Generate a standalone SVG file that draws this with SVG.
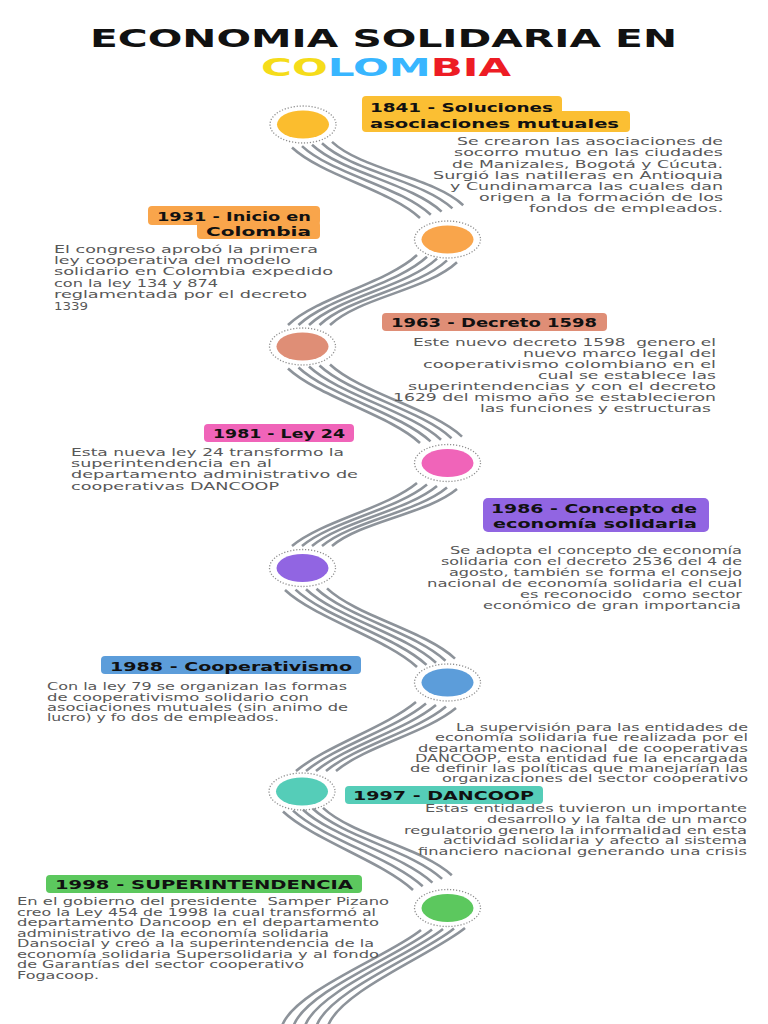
<svg xmlns="http://www.w3.org/2000/svg" width="768" height="1024" viewBox="0 0 768 1024">
<style>
.bg{fill:#ffffff}
.ttl{font-family:"DejaVu Sans","Liberation Sans",sans-serif;font-weight:bold;font-size:25px;fill:#111}
.h{font-family:"DejaVu Sans","Liberation Sans",sans-serif;font-weight:bold;font-size:13px;fill:#111}
.h1{font-size:12.8px}
.t{font-family:"DejaVu Sans","Liberation Sans",sans-serif;font-size:10.6px;fill:#585858}
.ts{font-size:10px}
.ring{fill:none;stroke:#8f8f8f;stroke-width:1.3;stroke-dasharray:1.2 1.8}
.w path{fill:none;stroke:#8d939a;stroke-width:2.6}
</style>
<rect class="bg" x="0" y="0" width="768" height="1024"/>

<g id="title">
<text class="ttl" x="90" y="47" textLength="587" lengthAdjust="spacingAndGlyphs">ECONOMIA SOLIDARIA EN</text>
<text class="ttl" x="261" y="76" textLength="250" lengthAdjust="spacingAndGlyphs"><tspan fill="#F5DC1A">CO</tspan><tspan fill="#38B6FF">LOM</tspan><tspan fill="#ED1C24">BIA</tspan></text>
</g>

<g id="connectors" class="w">
<path d="M292,147.5 C322,175.5 390,190 420,218"/>
<path d="M302,146.1 C332,174.1 400.8,186.8 430.8,214.8"/>
<path d="M312,144.7 C342,172.7 411.6,183.6 441.6,211.6"/>
<path d="M322,143.3 C352,171.3 422.4,180.4 452.4,208.4"/>
<path d="M332,141.9 C362,169.9 433.2,177.2 463.2,205.2"/>

<path d="M417,255 C387,283 318,297 288,325"/>
<path d="M427,256.8 C397,284.8 328.5,297 298.5,325"/>
<path d="M437,258.6 C407,286.6 339,297 309,325"/>
<path d="M447,260.4 C417,288.4 349.5,297 319.5,325"/>
<path d="M457,262.2 C427,290.2 360,297 330,325"/>

<path d="M288,368.5 C318,396.5 390,415 420,443"/>
<path d="M298.5,367.5 C328.5,395.5 400.5,413.4 430.5,441.4"/>
<path d="M309,366.5 C339,394.5 411,411.8 441,439.8"/>
<path d="M319.5,365.5 C349.5,393.5 421.5,410.2 451.5,438.2"/>
<path d="M330,364.5 C360,392.5 432,408.6 462,436.6"/>

<path d="M417,483 C387,508 322,521 292,546"/>
<path d="M427,484.5 C397,509.5 332,521 302,546"/>
<path d="M437,486 C407,511 342,521 312,546"/>
<path d="M447,487.5 C417,512.5 352,521 322,546"/>
<path d="M457,489 C427,514 362,521 332,546"/>

<path d="M285,590 C315,618 387,639 417,667"/>
<path d="M295.5,589.6 C325.5,617.6 396.5,636.9 426.5,664.9"/>
<path d="M306,589.2 C336,617.2 406,634.8 436,662.8"/>
<path d="M316.5,588.8 C346.5,616.8 415.5,632.7 445.5,660.7"/>
<path d="M327,588.4 C357,616.4 425,630.6 455,658.6"/>

<path d="M416,702 C386,727 326,746 296,771"/>
<path d="M426,703.5 C396,728.5 336,746 306,771"/>
<path d="M436,705 C406,730 346,746 316,771"/>
<path d="M446,706.5 C416,731.5 356,746 326,771"/>
<path d="M456,708 C426,733 366,746 336,771"/>

<path d="M283,811.5 C313,839.5 383,862 413,890"/>
<path d="M293,810.6 C323,838.6 392.7,858.3 422.7,886.3"/>
<path d="M303,809.7 C333,837.7 402.4,854.6 432.4,882.6"/>
<path d="M313,808.8 C343,836.8 412.1,850.9 442.1,878.9"/>
<path d="M323,807.9 C353,835.9 421.8,847.2 451.8,875.2"/>

<path d="M421,930 C391,955 294,991 282,1026"/>
<path d="M432,929.5 C402,954.5 305.5,991 293.5,1026"/>
<path d="M443,929 C413,954 317,991 305,1026"/>
<path d="M454,928.5 C424,953.5 328.5,991 316.5,1026"/>
<path d="M465,928 C435,953 340,991 328,1026"/>
</g>

<g id="n1841">
<ellipse class="ring" cx="303" cy="124.5" rx="33" ry="18.5"/>
<ellipse cx="303" cy="124.5" rx="26" ry="14" fill="#FBBD2E"/>
<rect x="362" y="96" width="200" height="22" rx="4" fill="#FBBF33"/>
<rect x="362" y="111" width="268" height="21" rx="4" fill="#FBBF33"/>
<text class="h h1" x="370" y="111.5" textLength="183" lengthAdjust="spacingAndGlyphs">1841 - Soluciones</text>
<text class="h h1" x="370" y="127.5" textLength="249" lengthAdjust="spacingAndGlyphs">asociaciones mutuales</text>
<text class="t" x="457" y="145" textLength="266" lengthAdjust="spacingAndGlyphs">Se crearon las asociaciones de</text>
<text class="t" x="454" y="156" textLength="269" lengthAdjust="spacingAndGlyphs">socorro mutuo en las ciudades</text>
<text class="t" x="452" y="167.5" textLength="271" lengthAdjust="spacingAndGlyphs">de Manizales, Bogotá y Cúcuta.</text>
<text class="t" x="433" y="178.5" textLength="290" lengthAdjust="spacingAndGlyphs">Surgió las natilleras en Antioquia</text>
<text class="t" x="450" y="190" textLength="273" lengthAdjust="spacingAndGlyphs">y Cundinamarca las cuales dan</text>
<text class="t" x="479" y="201" textLength="244" lengthAdjust="spacingAndGlyphs">origen a la formación de los</text>
<text class="t" x="529" y="212" textLength="194" lengthAdjust="spacingAndGlyphs">fondos de empleados.</text>
</g>

<g id="n1931">
<ellipse class="ring" cx="447.5" cy="239.5" rx="33" ry="18.5"/>
<ellipse cx="447.5" cy="239.5" rx="26" ry="14" fill="#F9A54B"/>
<rect x="148" y="206" width="172" height="19" rx="4" fill="#F9A54B"/>
<rect x="197" y="221" width="123" height="18" rx="4" fill="#F9A54B"/>
<text class="h" x="157" y="220.5" textLength="154" lengthAdjust="spacingAndGlyphs">1931 - Inicio en</text>
<text class="h" x="206" y="236" textLength="105" lengthAdjust="spacingAndGlyphs">Colombia</text>
<text class="t" x="54" y="253" textLength="264" lengthAdjust="spacingAndGlyphs">El congreso aprobó la primera</text>
<text class="t" x="54" y="264" textLength="237" lengthAdjust="spacingAndGlyphs">ley cooperativa del modelo</text>
<text class="t" x="54" y="275" textLength="279" lengthAdjust="spacingAndGlyphs">solidario en Colombia expedido</text>
<text class="t" x="54" y="286.5" textLength="164" lengthAdjust="spacingAndGlyphs">con la ley 134 y 874</text>
<text class="t" x="54" y="298" textLength="253" lengthAdjust="spacingAndGlyphs">reglamentada por el decreto</text>
<text class="t" x="54" y="309.5" textLength="34" lengthAdjust="spacingAndGlyphs">1339</text>
</g>

<g id="n1963">
<ellipse class="ring" cx="302.5" cy="346.5" rx="33" ry="18.5"/>
<ellipse cx="302.5" cy="346.5" rx="26" ry="14" fill="#DF8E76"/>
<rect x="382" y="313" width="225" height="18" rx="4" fill="#DF8E76"/>
<text class="h" x="391" y="326.5" textLength="206" lengthAdjust="spacingAndGlyphs">1963 - Decreto 1598</text>
<text class="t" x="413" y="346" textLength="303" lengthAdjust="spacingAndGlyphs" xml:space="preserve">Este nuevo decreto 1598  genero el</text>
<text class="t" x="523" y="357" textLength="193" lengthAdjust="spacingAndGlyphs">nuevo marco legal del</text>
<text class="t" x="423" y="367.5" textLength="293" lengthAdjust="spacingAndGlyphs">cooperativismo colombiano en el</text>
<text class="t" x="538" y="379" textLength="178" lengthAdjust="spacingAndGlyphs">cual se establece las</text>
<text class="t" x="408" y="390" textLength="308" lengthAdjust="spacingAndGlyphs">superintendencias y con el decreto</text>
<text class="t" x="393" y="401" textLength="323" lengthAdjust="spacingAndGlyphs">1629 del mismo año se establecieron</text>
<text class="t" x="480" y="412" textLength="231" lengthAdjust="spacingAndGlyphs">las funciones y estructuras</text>
</g>

<g id="n1981">
<ellipse class="ring" cx="447.5" cy="463" rx="33" ry="18.5"/>
<ellipse cx="447.5" cy="463" rx="26" ry="14" fill="#F064B9"/>
<rect x="204" y="424" width="150" height="18" rx="4" fill="#F064B9"/>
<text class="h" x="213" y="437.5" textLength="132" lengthAdjust="spacingAndGlyphs">1981 - Ley 24</text>
<text class="t" x="71" y="456" textLength="273" lengthAdjust="spacingAndGlyphs">Esta nueva ley 24 transformo la</text>
<text class="t" x="71" y="467" textLength="201" lengthAdjust="spacingAndGlyphs">superintendencia en al</text>
<text class="t" x="71" y="478" textLength="287" lengthAdjust="spacingAndGlyphs">departamento administrativo de</text>
<text class="t" x="71" y="490" textLength="208" lengthAdjust="spacingAndGlyphs">cooperativas DANCOOP</text>
</g>

<g id="n1986">
<ellipse class="ring" cx="302.5" cy="568" rx="33" ry="18.5"/>
<ellipse cx="302.5" cy="568" rx="26" ry="14" fill="#9165E2"/>
<rect x="483" y="498" width="226" height="34" rx="5" fill="#9165E2"/>
<text class="h h1" x="491" y="513" textLength="206" lengthAdjust="spacingAndGlyphs">1986 - Concepto de</text>
<text class="h h1" x="493" y="528" textLength="204" lengthAdjust="spacingAndGlyphs">economía solidaria</text>
<text class="t" x="450" y="554" textLength="292" lengthAdjust="spacingAndGlyphs">Se adopta el concepto de economía</text>
<text class="t" x="441" y="565" textLength="301" lengthAdjust="spacingAndGlyphs">solidaria con el decreto 2536 del 4 de</text>
<text class="t" x="449" y="576" textLength="293" lengthAdjust="spacingAndGlyphs">agosto, también se forma el consejo</text>
<text class="t" x="427" y="587" textLength="315" lengthAdjust="spacingAndGlyphs">nacional de economía solidaria el cual</text>
<text class="t" x="520" y="598" textLength="222" lengthAdjust="spacingAndGlyphs" xml:space="preserve">es reconocido  como sector</text>
<text class="t" x="483" y="609" textLength="258" lengthAdjust="spacingAndGlyphs">económico de gran importancia</text>
</g>

<g id="n1988">
<ellipse class="ring" cx="447.5" cy="682.5" rx="33" ry="18.5"/>
<ellipse cx="447.5" cy="682.5" rx="26" ry="14" fill="#5C9DDA"/>
<rect x="101" y="656" width="260" height="18" rx="4" fill="#5C9DDA"/>
<text class="h" x="110" y="670.5" textLength="242" lengthAdjust="spacingAndGlyphs">1988 - Cooperativismo</text>
<text class="t ts" x="47" y="690" textLength="300" lengthAdjust="spacingAndGlyphs">Con la ley 79 se organizan las formas</text>
<text class="t ts" x="47" y="700.5" textLength="262" lengthAdjust="spacingAndGlyphs">de cooperativismo solidario con</text>
<text class="t ts" x="47" y="710.5" textLength="301" lengthAdjust="spacingAndGlyphs">asociaciones mutuales (sin animo de</text>
<text class="t ts" x="47" y="720.5" textLength="232" lengthAdjust="spacingAndGlyphs">lucro) y fo dos de empleados.</text>
</g>

<g id="n1997">
<ellipse class="ring" cx="302" cy="791.5" rx="33" ry="18.5"/>
<ellipse cx="302" cy="791.5" rx="26" ry="14" fill="#55CDB8"/>
<text class="t ts" x="456" y="730.5" textLength="292" lengthAdjust="spacingAndGlyphs">La supervisión para las entidades de</text>
<text class="t ts" x="435" y="741" textLength="313" lengthAdjust="spacingAndGlyphs">economía solidaria fue realizada por el</text>
<text class="t ts" x="418" y="751.5" textLength="330" lengthAdjust="spacingAndGlyphs" xml:space="preserve">departamento nacional  de cooperativas</text>
<text class="t ts" x="415" y="761.5" textLength="333" lengthAdjust="spacingAndGlyphs">DANCOOP, esta entidad fue la encargada</text>
<text class="t ts" x="410" y="771.5" textLength="338" lengthAdjust="spacingAndGlyphs">de definir las políticas que manejarían las</text>
<text class="t ts" x="442" y="781.5" textLength="306" lengthAdjust="spacingAndGlyphs">organizaciones del sector cooperativo</text>
<rect x="345" y="786" width="198" height="18" rx="4" fill="#55CDB8"/>
<text class="h" x="353" y="800" textLength="181" lengthAdjust="spacingAndGlyphs">1997 - DANCOOP</text>
<text class="t" x="425" y="812" textLength="322" lengthAdjust="spacingAndGlyphs">Estas entidades tuvieron un importante</text>
<text class="t" x="487" y="823" textLength="260" lengthAdjust="spacingAndGlyphs">desarrollo y la falta de un marco</text>
<text class="t" x="404" y="833.5" textLength="343" lengthAdjust="spacingAndGlyphs">regulatorio genero la informalidad en esta</text>
<text class="t" x="443" y="844" textLength="304" lengthAdjust="spacingAndGlyphs">actividad solidaria y afecto al sistema</text>
<text class="t" x="418" y="854.5" textLength="329" lengthAdjust="spacingAndGlyphs">financiero nacional generando una crisis</text>
</g>

<g id="n1998">
<ellipse class="ring" cx="447.5" cy="908" rx="33" ry="18.5"/>
<ellipse cx="447.5" cy="908" rx="26" ry="14" fill="#5CC85E"/>
<rect x="46" y="875" width="316" height="18" rx="4" fill="#5CC85E"/>
<text class="h" x="55" y="888.5" textLength="298" lengthAdjust="spacingAndGlyphs">1998 - SUPERINTENDENCIA</text>
<text class="t ts" x="17" y="905" textLength="372" lengthAdjust="spacingAndGlyphs" xml:space="preserve">En el gobierno del presidente  Samper Pizano</text>
<text class="t ts" x="17" y="915.5" textLength="359" lengthAdjust="spacingAndGlyphs">creo la Ley 454 de 1998 la cual transformó al</text>
<text class="t ts" x="17" y="926" textLength="362" lengthAdjust="spacingAndGlyphs">departamento Dancoop en el departamento</text>
<text class="t ts" x="17" y="936.5" textLength="312" lengthAdjust="spacingAndGlyphs">administrativo de la economía solidaria</text>
<text class="t ts" x="17" y="947" textLength="357" lengthAdjust="spacingAndGlyphs">Dansocial y creó a la superintendencia de la</text>
<text class="t ts" x="17" y="957.5" textLength="362" lengthAdjust="spacingAndGlyphs">economía solidaria Supersolidaria y al fondo</text>
<text class="t ts" x="17" y="968" textLength="287" lengthAdjust="spacingAndGlyphs">de Garantías del sector cooperativo</text>
<text class="t ts" x="17" y="978.5" textLength="82" lengthAdjust="spacingAndGlyphs">Fogacoop.</text>
</g>
</svg>
